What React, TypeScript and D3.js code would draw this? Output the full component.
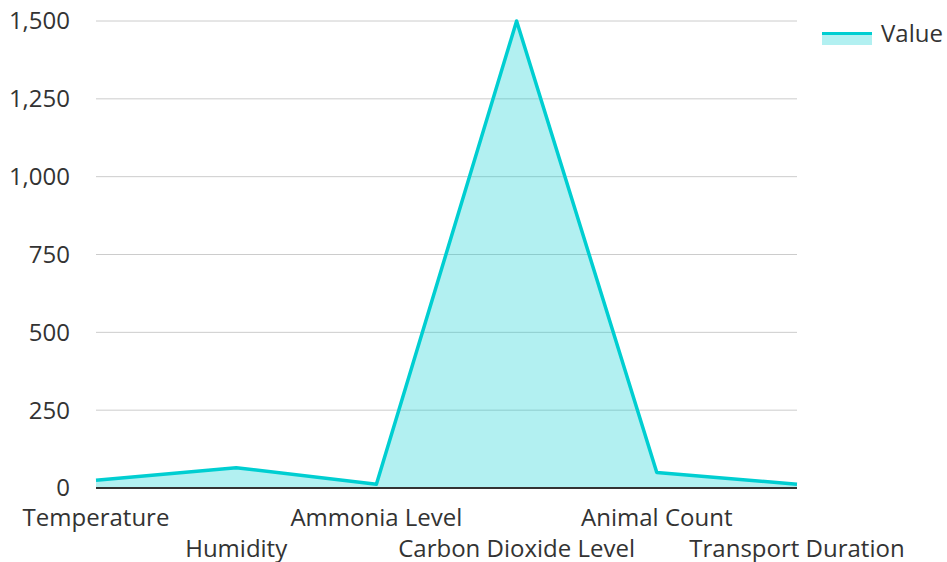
import React from "react";
import * as d3 from "d3";

const categories = ["Temperature", "Humidity", "Ammonia Level", "Carbon Dioxide Level", "Animal Count", "Transport Duration"];
const values = [25, 65, 12, 1500, 50, 12];
const yTicks = [0, 250, 500, 750, 1000, 1250, 1500];
const seriesName = "Value";

const W = 947, H = 562;
const left = 96, right = 797, top = 21, bottom = 488;
const color = "#00CED1";
const font = "'Open Sans', 'Noto Sans', sans-serif";

export default function App() {
  const x = d3.scalePoint<string>().domain(categories).range([left, right]).padding(0);
  const y = d3.scaleLinear().domain([0, 1500]).range([bottom, top]);
  const pts = categories.map((c, i) => [x(c)!, y(values[i])] as [number, number]);
  const line = d3.line<[number, number]>()(pts)!;
  const area = d3.area<[number, number]>().x(d => d[0]).y0(y(0)).y1(d => d[1])(pts)!;
  const fmt = d3.format(",");
  return (
    <svg width={W} height={H} style={{ position: "absolute", left: 0, top: 0 }} fontFamily={font}>
      {yTicks.map(t => (
        <g key={t}>
          {t !== 0 && <line x1={left} x2={right} y1={y(t)} y2={y(t)} stroke="#cccccc" strokeWidth={1} />}
          <text x={70} y={y(t)} dy="0.35em" textAnchor="end" fontSize={24} fill="#333">{fmt(t)}</text>
        </g>
      ))}
      <path d={area} fill={color} fillOpacity={0.3} />
      <path d={line} fill="none" stroke={color} strokeWidth={3.5} strokeLinejoin="round" />
      <line x1={left} x2={right} y1={y(0)} y2={y(0)} stroke="#333" strokeWidth={2} />
      {categories.map((c, i) => (
        <text key={c} x={x(c)} y={i % 2 === 0 ? 525.5 : 557} textAnchor="middle" fontSize={24} fill="#333">{c}</text>
      ))}
      <rect x={822} y={32} width={50} height={13} fill={color} fillOpacity={0.3} />
      <line x1={822} x2={872} y1={33.5} y2={33.5} stroke={color} strokeWidth={3} />
      <text x={881} y={34} dy="0.35em" fontSize={24} fill="#333">{seriesName}</text>
    </svg>
  );
}
